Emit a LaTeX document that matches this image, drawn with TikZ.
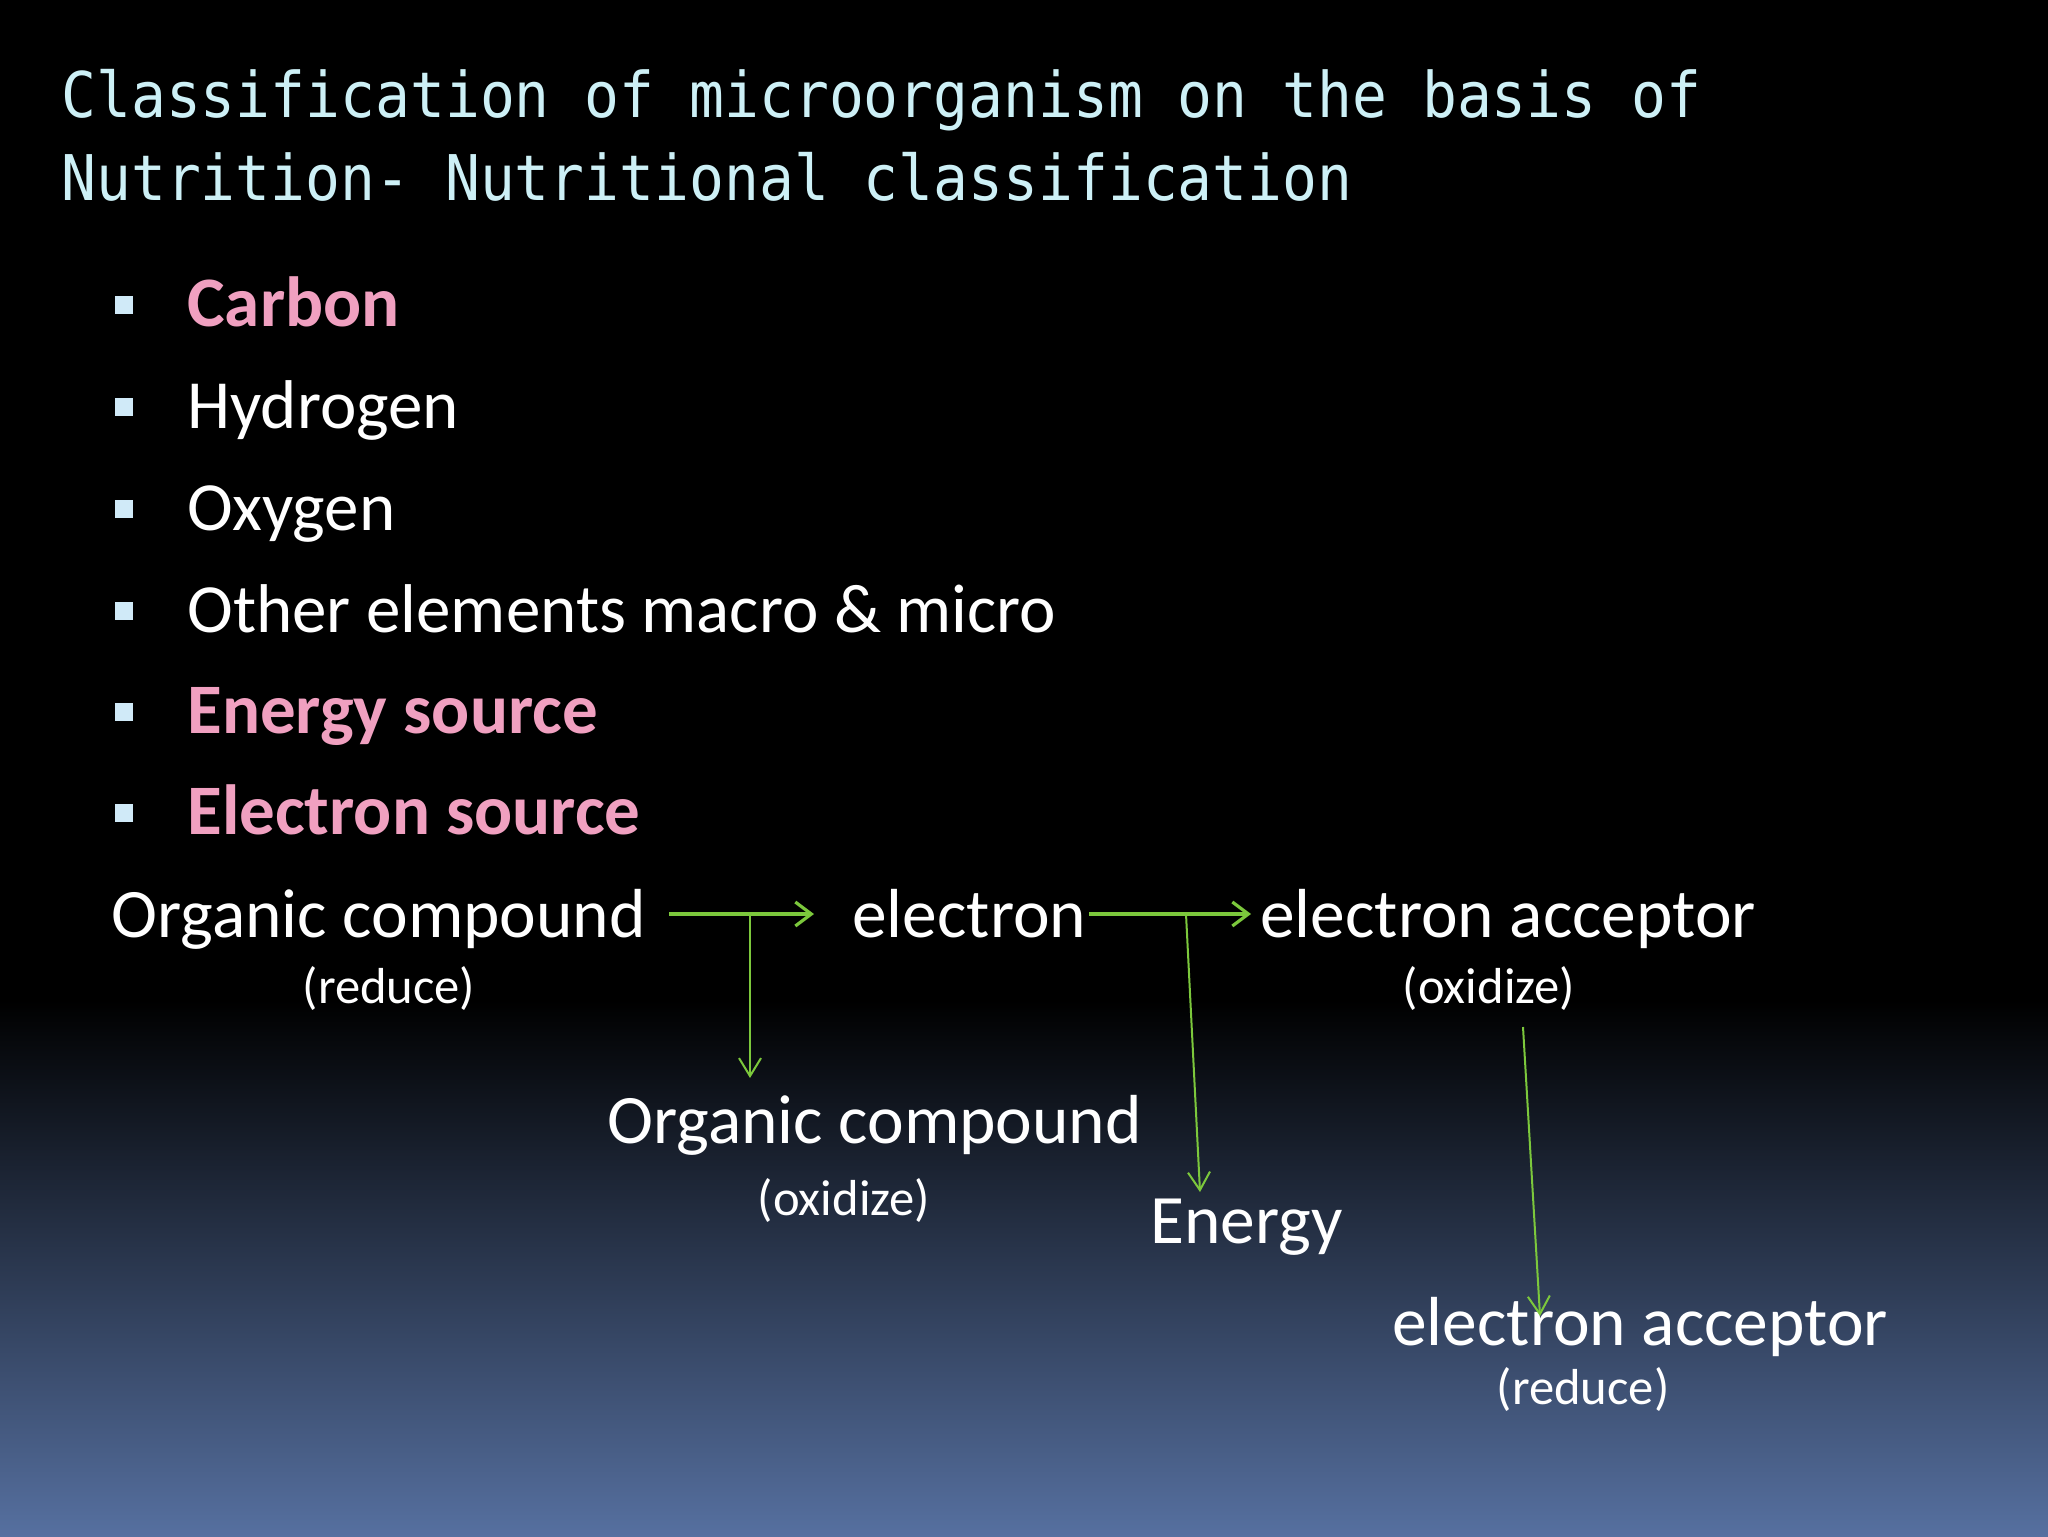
\documentclass[tikz,border=0pt]{standalone}
\usepackage{fontspec}
\setmainfont{Carlito}
\newfontfamily\monof[FakeStretch=0.92]{DejaVu Sans Mono}
\usetikzlibrary{arrows.meta}
\definecolor{titlec}{RGB}{205,240,246}
\definecolor{pinkc}{RGB}{240,160,192}
\definecolor{greenc}{RGB}{124,200,60}
\definecolor{bulletc}{RGB}{208,234,248}
\definecolor{botc}{RGB}{86,112,160}
\tikzset{
  titletext/.style={anchor=base west, inner sep=0pt, text=titlec, font=\monof\fontsize{31.5pt}{36pt}\selectfont},
  sq/.style={fill=bulletc, inner sep=0pt, minimum size=9pt, draw=none},
  bultext/.style={anchor=base west, inner sep=0pt, text=white, font=\fontsize{34.5pt}{40pt}\selectfont},
  bulhot/.style={bultext, text=pinkc, font=\bfseries\fontsize{35.5pt}{40pt}\selectfont},
  bigtext/.style={anchor=base west, inner sep=0pt, text=white, font=\fontsize{34.7pt}{40pt}\selectfont},
  subtext/.style={anchor=base, inner sep=0pt, text=white, font=\fontsize{25.3pt}{30pt}\selectfont},
  harrow/.style={draw=greenc, line width=1.6pt, -{Straight Barb[length=8pt,width=12pt,line width=1.6pt]}},
  varrow/.style={draw=greenc, line width=1pt, -{Straight Barb[length=9pt,width=11pt,line width=1pt]}}
}
\begin{document}
\begin{tikzpicture}[x=0.5pt,y=-0.5pt]
\useasboundingbox (0,0) rectangle (2048,1536);
\fill[black] (0,0) rectangle (2048,1536);
\shade[top color=black, bottom color=botc] (0,1000) rectangle (2048,1536.5);

% title
\node[titletext] (t1) at (61,118) {Classification of microorganism on the basis of};
\node[titletext] (t2) at (61,200) {Nutrition- Nutritional classification};

% bullets
\node[sq] (s1) at (124,305) {};
\node[sq] (s2) at (124,407) {};
\node[sq] (s3) at (124,509) {};
\node[sq] (s4) at (124,611) {};
\node[sq] (s5) at (124,712) {};
\node[sq] (s6) at (124,813) {};
\node[bulhot] (b1) at (187,326) {Carbon};
\node[bultext] (b2) at (187,428) {Hydrogen};
\node[bultext] (b3) at (187,530) {Oxygen};
\node[bultext] (b4) at (187,632) {Other elements macro \& micro};
\node[bulhot] (b5) at (187,733) {Energy source};
\node[bulhot] (b6) at (187,834) {Electron source};

% diagram texts
\node[bigtext] (oc1) at (111,937) {Organic compound};
\node[subtext] (red1) at (389,1003) {(reduce)};
\node[bigtext] (el) at (852,937) {electron};
\node[bigtext] (ea1) at (1260,937) {electron acceptor};
\node[subtext] (ox1) at (1489,1003) {(oxidize)};
\node[bigtext] (oc2) at (607,1143) {Organic compound};
\node[subtext] (ox2) at (844,1215) {(oxidize)};
\node[bigtext] (en) at (1150,1243) {Energy};
\node[bigtext] (ea2) at (1392,1345) {electron acceptor};
\node[subtext] (red2) at (1583,1404) {(reduce)};

% connector points
\coordinate (h1s) at (669,914);
\coordinate (br1) at (750,914);
\coordinate (h1e) at (814,914);
\coordinate (br1e) at (750,1078);
\coordinate (h2s) at (1089,914);
\coordinate (br2) at (1186,914);
\coordinate (h2e) at (1251,914);
\coordinate (br2e) at (1200,1192);
\coordinate (v3s) at (1523,1027);
\coordinate (v3e) at (1540,1316);

\draw[harrow] (h1s) -- (h1e);
\draw[varrow] (br1) -- (br1e);
\draw[harrow] (h2s) -- (h2e);
\draw[varrow] (br2) -- (br2e);
\draw[varrow] (v3s) -- (v3e);
\end{tikzpicture}
\end{document}
